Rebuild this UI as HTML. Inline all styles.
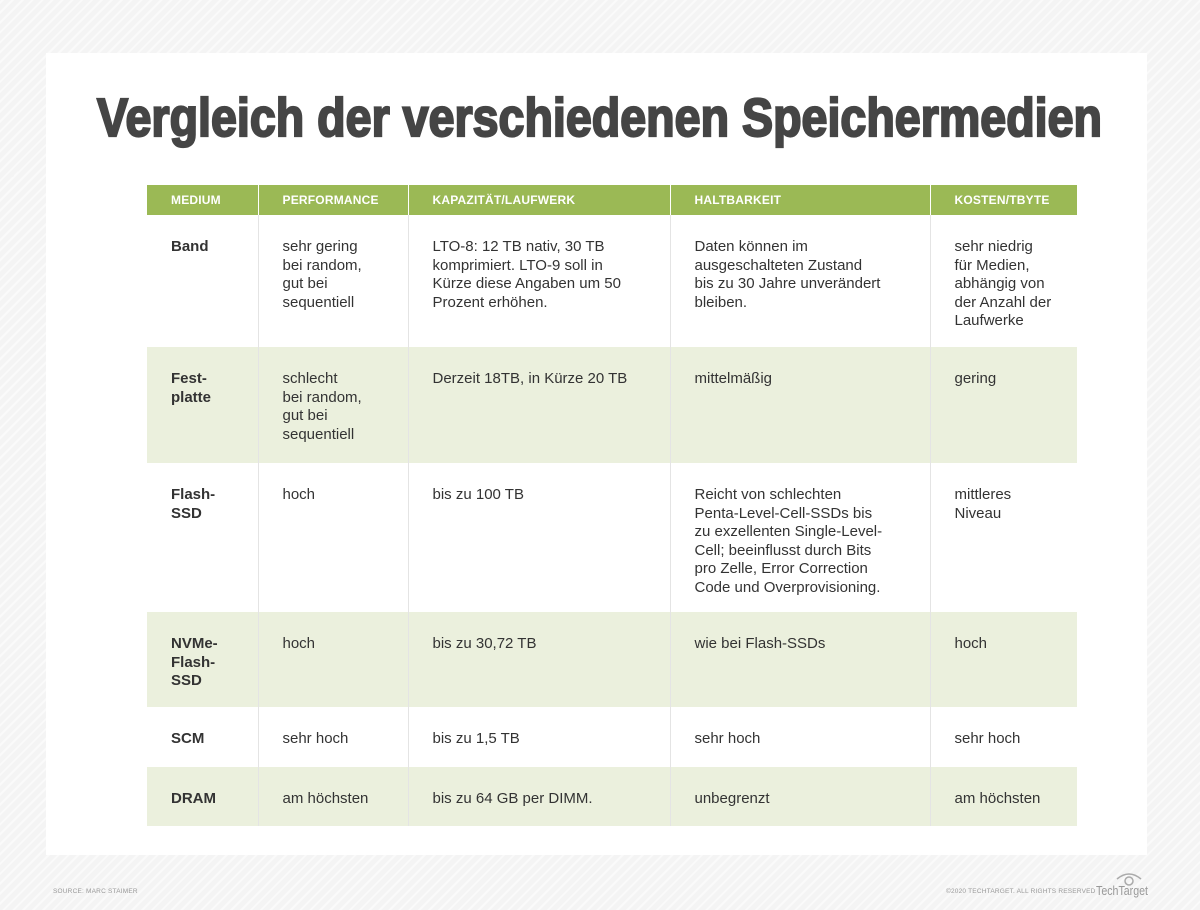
<!DOCTYPE html>
<html><head><meta charset="utf-8"><style>
html,body{margin:0;padding:0}
body{width:1200px;height:910px;position:relative;overflow:hidden;font-family:"Liberation Sans",sans-serif;
background:repeating-linear-gradient(-45deg,#f4f4f4 0 5px,#fafafa 5px 7px);}
.panel{position:absolute;left:46px;top:53px;width:1101px;height:802px;background:#fff}
.title{position:absolute;left:0;top:0}
table{position:absolute;left:147px;top:185px;border-collapse:collapse;table-layout:fixed}
td,th{padding:0 0 0 24px;vertical-align:top;font-size:15px;line-height:18.5px;color:#333;border-left:1px solid #e4e4e4;text-align:left}
td:first-child,th:first-child{border-left:none}
th{background:#9bb955;color:#fff;font-size:12px;font-weight:bold;height:30px;vertical-align:middle;border-left:1px solid #fff;letter-spacing:0.2px}
td{padding-top:23px}
tr.g td{background:#ebf0dd}
td.b{font-weight:bold}
.foot{position:absolute;font-size:6.5px;color:#999;letter-spacing:0.2px;white-space:nowrap}
</style></head><body>
<div class="panel"></div>
<svg class="title" width="1200" height="910" style="position:absolute;left:0;top:0">
<text x="97" y="136" textLength="1005" lengthAdjust="spacingAndGlyphs" font-family="Liberation Sans" font-weight="bold" font-size="54" fill="#454545" stroke="#454545" stroke-width="2.2">Vergleich der verschiedenen Speichermedien</text>
<text x="1096" y="895" font-family="Liberation Sans" font-size="13" fill="#999" textLength="52" lengthAdjust="spacingAndGlyphs">TechTarget</text>
<path d="M1117 879 q12 -10 24 0" stroke="#aaa" fill="none" stroke-width="1.5"/>
<circle cx="1129" cy="881" r="4" stroke="#aaa" fill="none" stroke-width="1.5"/>
</svg>
<table>
<colgroup><col style="width:111px"><col style="width:150px"><col style="width:262px"><col style="width:260px"><col style="width:147px"></colgroup>
<tr><th>MEDIUM</th><th>PERFORMANCE</th><th>KAPAZITÄT/LAUFWERK</th><th>HALTBARKEIT</th><th>KOSTEN/TBYTE</th></tr>
<tr style="height:132px"><td class="b">Band</td><td>sehr gering<br>bei random,<br>gut bei<br>sequentiell</td><td>LTO-8: 12 TB nativ, 30 TB<br>komprimiert. LTO-9 soll in<br>Kürze diese Angaben um 50<br>Prozent erhöhen.</td><td>Daten können im<br>ausgeschalteten Zustand<br>bis zu 30 Jahre unverändert<br>bleiben.</td><td>sehr niedrig<br>für Medien,<br>abhängig von<br>der Anzahl der<br>Laufwerke</td></tr>
<tr class="g" style="height:116px"><td class="b">Fest-<br>platte</td><td>schlecht<br>bei random,<br>gut bei<br>sequentiell</td><td>Derzeit 18TB, in Kürze 20 TB</td><td>mittelmäßig</td><td>gering</td></tr>
<tr style="height:149px"><td class="b">Flash-<br>SSD</td><td>hoch</td><td>bis zu 100 TB</td><td>Reicht von schlechten<br>Penta-Level-Cell-SSDs bis<br>zu exzellenten Single-Level-<br>Cell; beeinflusst durch Bits<br>pro Zelle, Error Correction<br>Code und Overprovisioning.</td><td>mittleres<br>Niveau</td></tr>
<tr class="g" style="height:95px"><td class="b">NVMe-<br>Flash-<br>SSD</td><td>hoch</td><td>bis zu 30,72 TB</td><td>wie bei Flash-SSDs</td><td>hoch</td></tr>
<tr style="height:60px"><td class="b">SCM</td><td>sehr hoch</td><td>bis zu 1,5 TB</td><td>sehr hoch</td><td>sehr hoch</td></tr>
<tr class="g" style="height:59px"><td class="b">DRAM</td><td>am höchsten</td><td>bis zu 64 GB per DIMM.</td><td>unbegrenzt</td><td>am höchsten</td></tr>
</table>
<div class="foot" style="left:53px;top:888px">SOURCE: MARC STAIMER</div>
<div class="foot" style="left:946px;top:888px">©2020 TECHTARGET. ALL RIGHTS RESERVED</div>
</body></html>
